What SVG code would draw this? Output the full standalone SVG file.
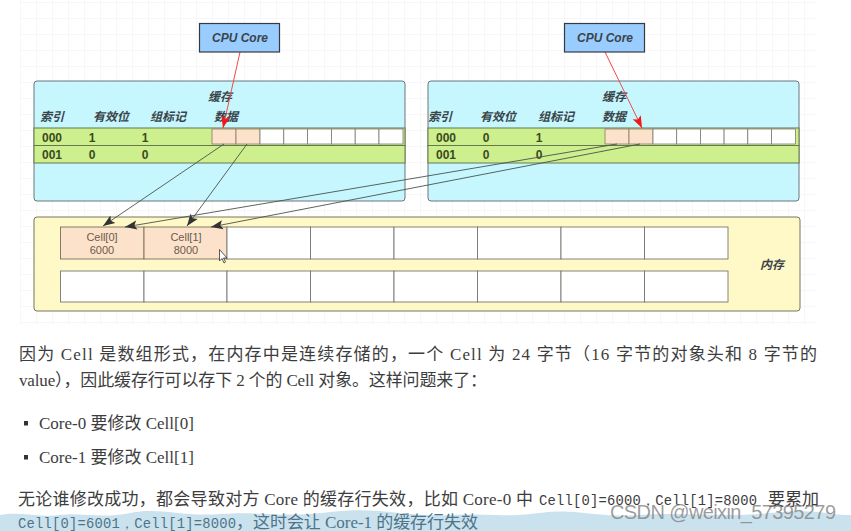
<svg xmlns="http://www.w3.org/2000/svg" width="851" height="531" viewBox="0 0 851 531">
<style>
.d{font-family:"Liberation Sans","Noto Sans CJK SC",sans-serif;fill:#333}
.h{font-size:12px;font-style:italic;font-weight:bold;text-anchor:middle;fill:#3a4448}
.v{font-size:12px;font-weight:bold;fill:#3b4a22;text-anchor:middle}
.c{font-size:11px;text-anchor:middle;fill:#6b5a4c}
.cpu{fill:#99ccff;stroke:#36393d;stroke-width:1.2}
.cache{fill:#c6f7ff;stroke:#6a7478;stroke-width:1}
.row{fill:#cdef8d;stroke:#66784e;stroke-width:1}
.e{fill:#fff;stroke:#7a7a72;stroke-width:.8}
.f{fill:#fde2cb;stroke:#8a7a66;stroke-width:.8}
.m{fill:#fff;stroke:#77776f;stroke-width:.9}
.n{fill:#fde2cb;stroke:#77705f;stroke-width:.9}
.t{font-family:"Liberation Serif","Noto Sans CJK SC",serif;font-size:17px;fill:#3d3d3d}
.k{font-family:"Liberation Mono","DejaVu Sans Mono",monospace;font-size:13.800px}
.w{fill:#4f7488}
.blk{stroke:#4a524c;stroke-width:.9;fill:none;marker-end:url(#ab)}
.red{stroke:#f04a4a;stroke-width:1;fill:none;marker-end:url(#ar)}
</style>
<defs>
<pattern id="g" width="16" height="16" patternUnits="userSpaceOnUse" x="4" y="2"><path d="M16 0H0V16" fill="none" stroke="#f0f0f3" stroke-width="1"/></pattern>
<marker id="ab" markerWidth="13" markerHeight="10" refX="12" refY="5" orient="auto" markerUnits="userSpaceOnUse"><path d="M0 0.500L12 5L0 9.500L2.500 5Z" fill="#333"/></marker>
<marker id="ar" markerWidth="13" markerHeight="10" refX="12" refY="5" orient="auto" markerUnits="userSpaceOnUse"><path d="M0 0.500L12 5L0 9.500L2.500 5Z" fill="#f01818"/></marker>
</defs>
<rect width="851" height="531" fill="#fff"/>
<rect x="20" y="0" width="795" height="325" fill="url(#g)"/>

<g id="cache0">
<rect class="cache" x="34" y="81" width="371" height="120" rx="3"/>
<text class="d h" x="220" y="101">缓存</text>
<text class="d h" x="52" y="121">索引</text><text class="d h" x="111" y="121">有效位</text><text class="d h" x="168" y="121">组标记</text><text class="d h" x="226" y="121">数据</text>
<rect class="row" x="34" y="128" width="371" height="17.500"/>
<rect class="row" x="34" y="145.500" width="371" height="17.500"/>
<text class="d v" x="52" y="142">000</text><text class="d v" x="92" y="142">1</text><text class="d v" x="145" y="142">1</text>
<text class="d v" x="52" y="159">001</text><text class="d v" x="92" y="159">0</text><text class="d v" x="145" y="159">0</text>
<rect class="f" x="212" y="129" width="24" height="15"/><rect class="f" x="236" y="129" width="24" height="15"/>
<rect class="e" x="260" y="129" width="23.800" height="15"/><rect class="e" x="283.800" y="129" width="23.800" height="15"/><rect class="e" x="307.600" y="129" width="23.800" height="15"/><rect class="e" x="331.400" y="129" width="23.800" height="15"/><rect class="e" x="355.200" y="129" width="23.800" height="15"/><rect class="e" x="379" y="129" width="24" height="15"/>
</g>

<g id="cache1">
<rect class="cache" x="428" y="81" width="371" height="120" rx="3"/>
<text class="d h" x="614" y="101">缓存</text>
<text class="d h" x="440" y="121">索引</text><text class="d h" x="498" y="121">有效位</text><text class="d h" x="556" y="121">组标记</text><text class="d h" x="614" y="121">数据</text>
<rect class="row" x="428" y="128" width="371" height="17.500"/>
<rect class="row" x="428" y="145.500" width="371" height="17.500"/>
<text class="d v" x="446" y="142">000</text><text class="d v" x="486" y="142">0</text><text class="d v" x="539" y="142">1</text>
<text class="d v" x="446" y="159">001</text><text class="d v" x="486" y="159">0</text><text class="d v" x="539" y="159">0</text>
<rect class="f" x="605" y="129" width="24" height="15"/><rect class="f" x="629" y="129" width="24" height="15"/>
<rect class="e" x="653" y="129" width="23.700" height="15"/><rect class="e" x="676.700" y="129" width="23.700" height="15"/><rect class="e" x="700.400" y="129" width="23.700" height="15"/><rect class="e" x="724.100" y="129" width="23.700" height="15"/><rect class="e" x="747.800" y="129" width="23.700" height="15"/><rect class="e" x="771.500" y="129" width="24" height="15"/>
</g>

<g id="memory">
<rect x="34" y="217" width="766" height="94" rx="3" fill="#fff9c8" stroke="#77745c" stroke-width="1"/>
<rect class="n" x="60.500" y="227" width="83.500" height="32"/><rect class="n" x="144" y="227" width="83" height="32"/>
<rect class="m" x="227" y="227" width="83.500" height="32"/><rect class="m" x="310.500" y="227" width="83.500" height="32"/><rect class="m" x="394" y="227" width="83.500" height="32"/><rect class="m" x="477.500" y="227" width="83.500" height="32"/><rect class="m" x="561" y="227" width="83.500" height="32"/><rect class="m" x="644.500" y="227" width="83.500" height="32"/>
<rect class="m" x="60.500" y="271" width="83.500" height="31"/><rect class="m" x="144" y="271" width="83" height="31"/><rect class="m" x="227" y="271" width="83.500" height="31"/><rect class="m" x="310.500" y="271" width="83.500" height="31"/><rect class="m" x="394" y="271" width="83.500" height="31"/><rect class="m" x="477.500" y="271" width="83.500" height="31"/><rect class="m" x="561" y="271" width="83.500" height="31"/><rect class="m" x="644.500" y="271" width="83.500" height="31"/>
<text class="d c" x="102" y="241">Cell[0]</text><text class="d c" x="102" y="253.500">6000</text>
<text class="d c" x="186" y="241">Cell[1]</text><text class="d c" x="186" y="253.500">8000</text>
<text class="d h" x="772" y="269">内存</text>
</g>

<g id="connectors">
<path class="blk" d="M224 144L103 226"/>
<path class="blk" d="M247 144L187 226"/>
<path class="blk" d="M617 144L125 227"/>
<path class="blk" d="M640 144L211 227"/>
<path class="red" d="M240 52L223 128"/>
<path class="red" d="M605 52L642 128"/>
</g>

<g id="core0"><rect class="cpu" x="199.500" y="23.500" width="80" height="28.500"/><text class="d h" x="240" y="42">CPU Core</text></g>
<g id="core1"><rect class="cpu" x="564.500" y="23.500" width="80" height="28.500"/><text class="d h" x="605" y="42">CPU Core</text></g>

<path id="cursor" d="M219.500 249.500V261L222 258.500L224 263L225.500 262L223.500 258H227Z" fill="#fff" stroke="#333" stroke-width=".8"/>

<g id="page-text">
<text class="t" x="19" y="360" textLength="798" lengthAdjust="spacing">因为 Cell 是数组形式，在内存中是连续存储的，一个 Cell 为 24 字节（16 字节的对象头和 8 字节的</text>
<text class="t" x="19" y="386" textLength="468" lengthAdjust="spacing">value），因此缓存行可以存下 2 个的 Cell 对象。这样问题来了：</text>
<rect x="24" y="421" width="4" height="4.500" fill="#333"/>
<text class="t" x="39" y="429">Core-0 要修改 Cell[0]</text>
<rect x="24" y="455" width="4" height="4.500" fill="#333"/>
<text class="t" x="39" y="463">Core-1 要修改 Cell[1]</text>
</g>

<path id="wave" d="M0 515C20 511 40 518 60 515S100 519 130 513S180 517 220 514S280 518 330 512S400 517 450 515S500 518 540 513S590 518 640 515S720 518 770 513S830 516 851 515V531H0Z" fill="#c9e2ee"/>

<g id="page-text-2">
<text class="t" x="18" y="505" textLength="515" lengthAdjust="spacing">无论谁修改成功，都会导致对方 Core 的缓存行失效，比如 Core-0 中</text>
<text class="t k" x="539" y="505" textLength="218">Cell[0]=6000，Cell[1]=8000</text>
<text class="t" x="768" y="505">要累加</text>
<text class="t k w" x="18" y="528" textLength="218" style="fill:#4f7488">Cell[0]=6001，Cell[1]=8000</text>
<text class="t" x="236" y="528" textLength="242" style="fill:#4f7488">，这时会让 Core-1 的缓存行失效</text>
<text id="watermark" x="610" y="519" textLength="226" style="font-family:'Liberation Sans',sans-serif;font-size:20px;fill:#7d7d7d;fill-opacity:.75">CSDN @weixin_57395279</text>
</g>
</svg>
